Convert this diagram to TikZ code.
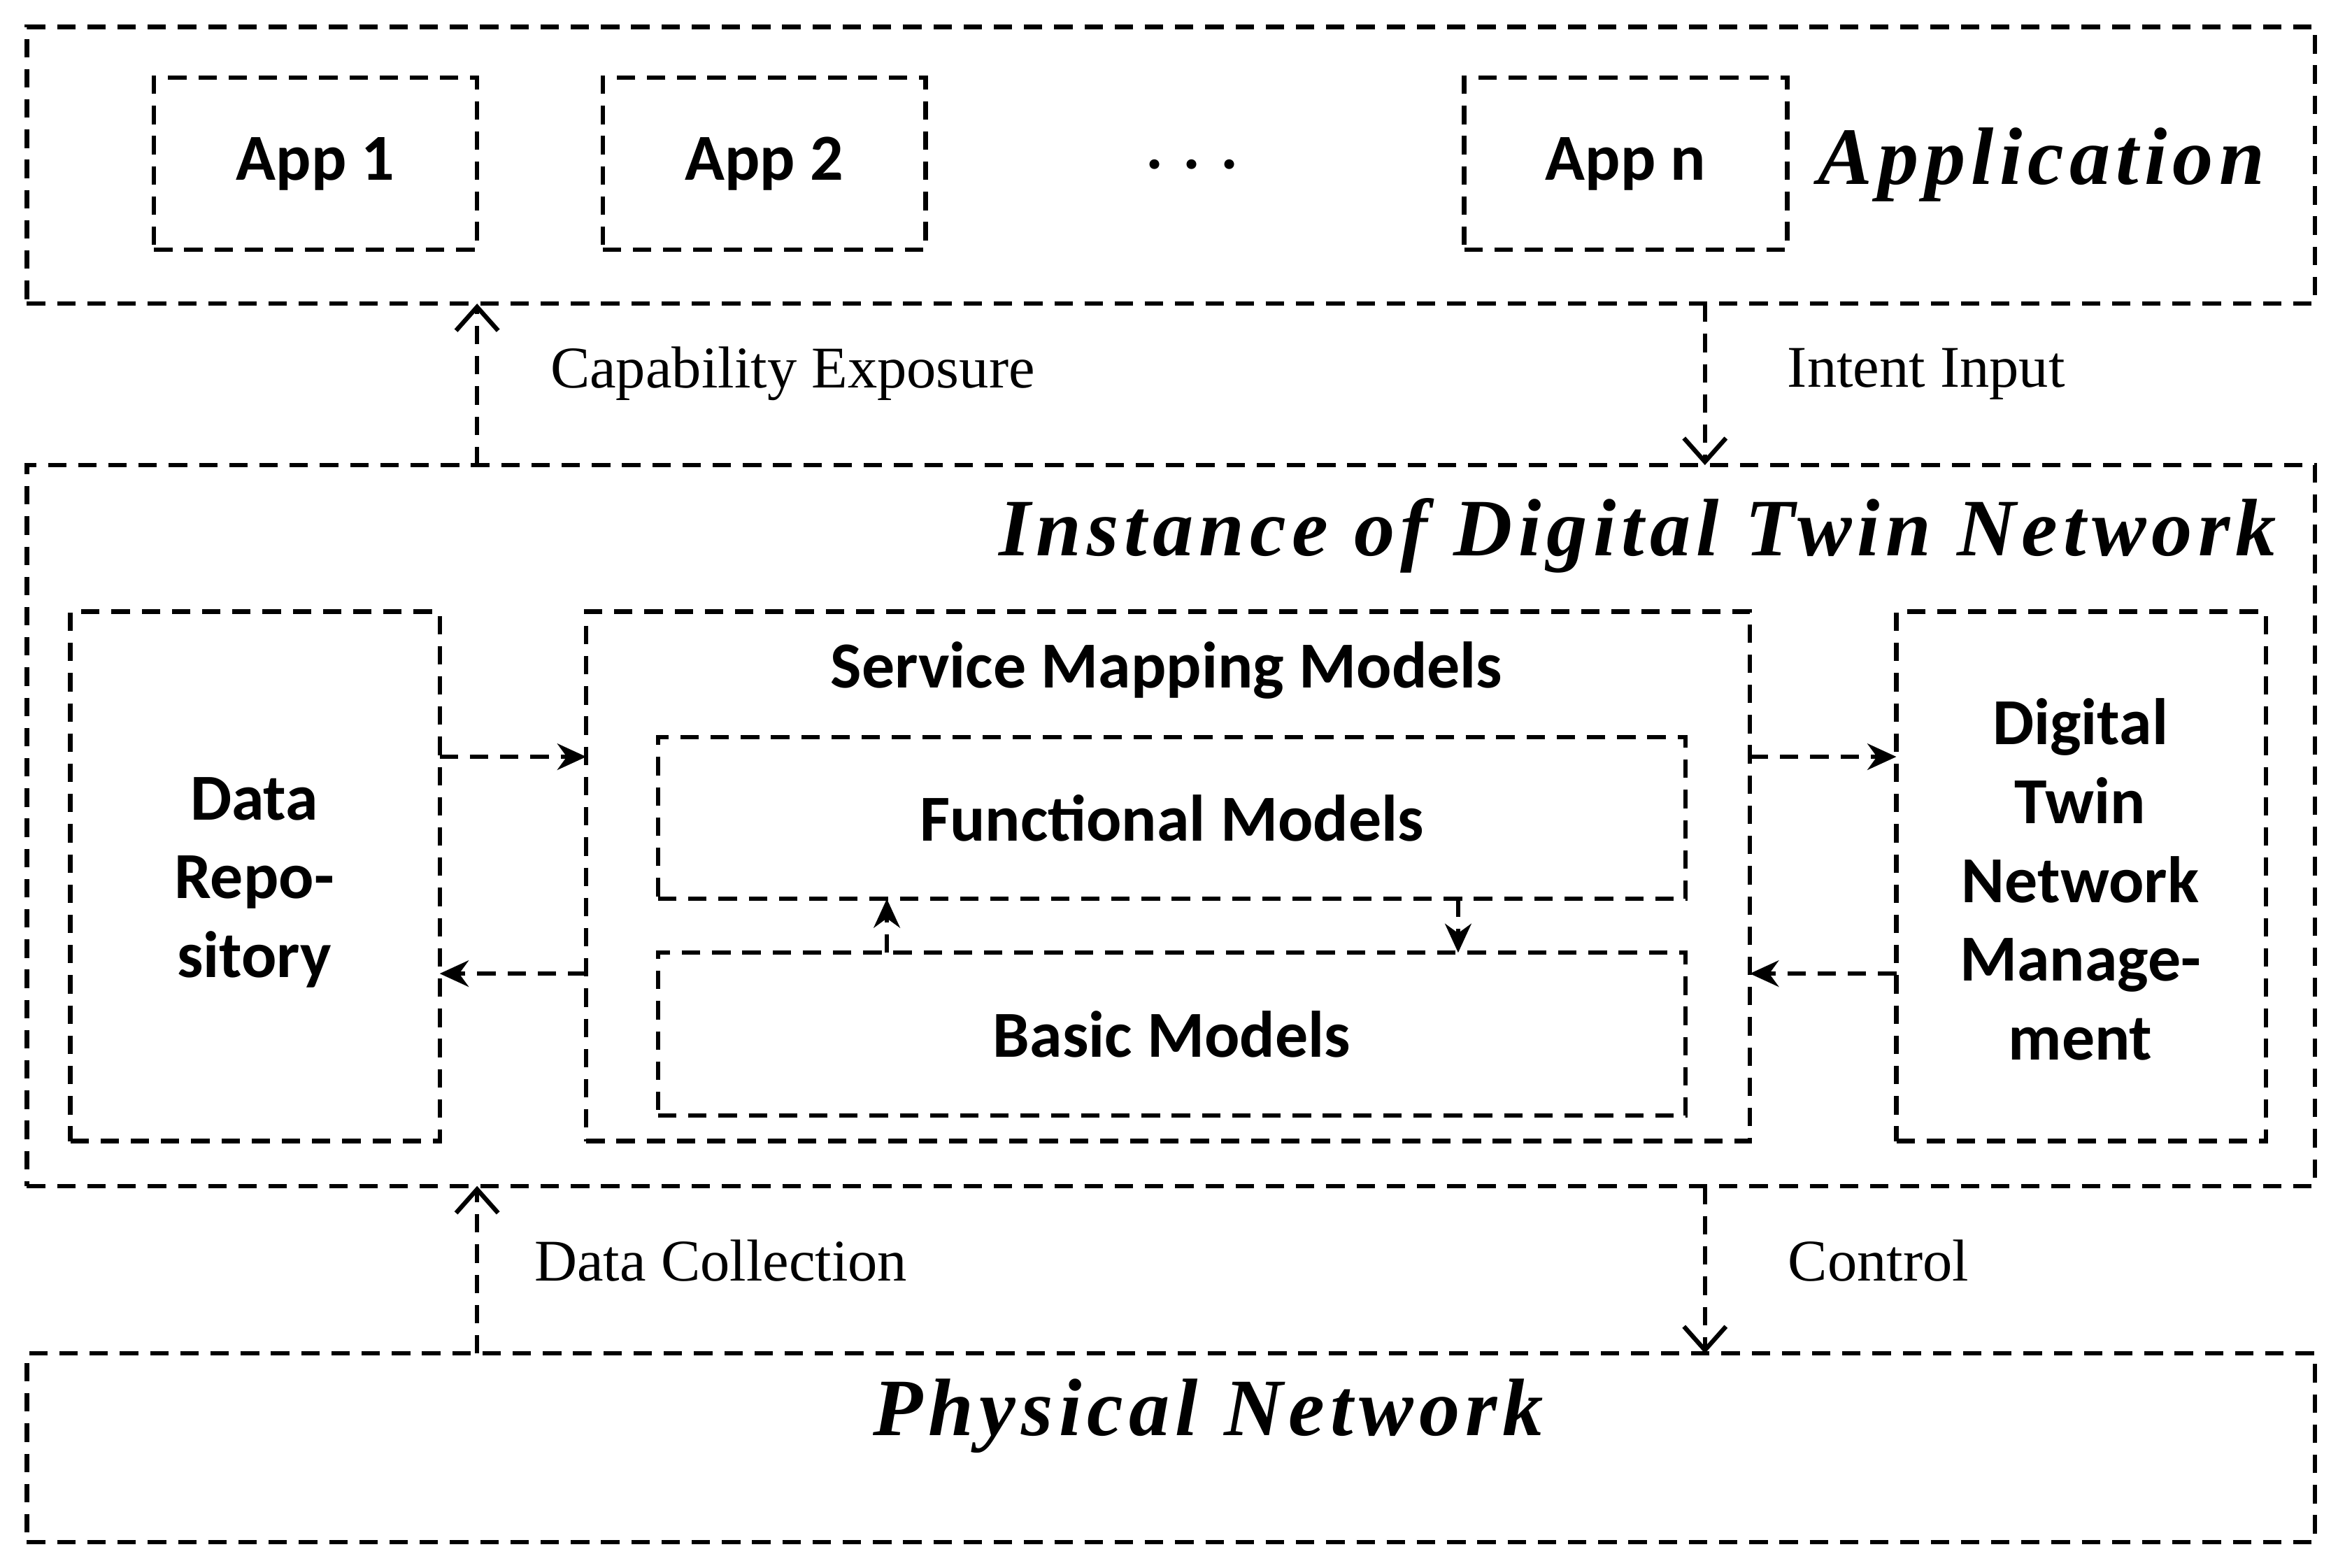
\documentclass[tikz,border=0pt]{standalone}
\usepackage{fontspec}
\setmainfont{Liberation Serif}
\newfontfamily\bsans{Carlito}
\newfontfamily\ttlfont{Liberation Serif}[LetterSpace=7]
\usetikzlibrary{arrows.meta}
\begin{document}
\begin{tikzpicture}[x=0.02cm,y=-0.02cm,
  dsh/.style={line width=1.7pt,dash pattern=on 7pt off 4.5pt},
  box/.style={dsh,draw,rectangle,inner sep=0pt,outer sep=0pt},
  lbl/.style={font=\bsans\bfseries\fontsize{25}{30}\selectfont,align=center},
  ttl/.style={font=\ttlfont\bfseries\itshape\fontsize{31}{36}\selectfont},
  clbl/.style={font=\fontsize{22.5}{26}\selectfont},
  oarr/.style={dsh,-{Straight Barb[length=9pt,width=16pt,line width=1.7pt]}},
  farr/.style={dsh,-{Stealth[length=11pt,width=10pt]}}]
\newcommand{\bx}[5]{\node[box,minimum width={(#4-#2)*0.02cm},minimum height={(#5-#3)*0.02cm}] (#1) at ({(#2+#4)/2},{(#3+#5)/2}) {};}
\useasboundingbox (0,0) rectangle (1568,1048);
\bx{app}{18}{18}{1548}{203}
\bx{a1}{103}{52}{319}{167}
\bx{a2}{403}{52}{619}{167}
\bx{an}{979}{52}{1195}{167}
\node[lbl] at (a1) {App 1};
\node[lbl] at (a2) {App 2};
\node[lbl] at (an) {App n};
\node[lbl] (dots) at (797,110) {. . .};
\node[ttl] (tapp) at (1365,110) {Application};
\bx{dtn}{18}{311}{1548}{793}
\node[ttl] (tdtn) at (1095,358) {Instance of Digital Twin Network};
\bx{dr}{47}{409}{294}{763}
\node[lbl] at (170,590) {Data\\Repo-\\sitory};
\bx{smm}{392}{409}{1170}{763}
\node[lbl] (tsmm) at (780,448) {Service Mapping Models};
\bx{fm}{440}{493}{1127}{601}
\node[lbl] at (fm) {Functional Models};
\bx{bm}{440}{637}{1127}{746}
\node[lbl] at (bm) {Basic Models};
\bx{mg}{1268}{409}{1515}{763}
\node[lbl] at (1391,588) {Digital\\Twin\\Network\\Manage-\\ment};
\bx{pn}{18}{905}{1548}{1031}
\node[ttl] (tpn) at (808,947) {Physical Network};
% arrows
\draw[oarr] (dtn.north -| 319,0) -- (app.south -| 319,0);
\draw[oarr] (app.south -| 1140,0) -- (dtn.north -| 1140,0);
\draw[oarr] (pn.north -| 319,0) -- (dtn.south -| 319,0);
\draw[oarr] (dtn.south -| 1140,0) -- (pn.north -| 1140,0);
\node[clbl] at (530,250) {Capability Exposure};
\node[clbl] at (1288,250) {Intent Input};
\node[clbl] at (482,843) {Data Collection};
\node[clbl] at (1256,843) {Control};
\draw[farr] (dr.east |- 0,506) -- (smm.west |- 0,506);
\draw[farr] (smm.west |- 0,651) -- (dr.east |- 0,651);
\draw[farr] (smm.east |- 0,506) -- (mg.west |- 0,506);
\draw[farr] (mg.west |- 0,651) -- (smm.east |- 0,651);
\draw[farr] (bm.north -| 593,0) -- (fm.south -| 593,0);
\draw[farr] (fm.south -| 975,0) -- (bm.north -| 975,0);
\end{tikzpicture}
\end{document}
